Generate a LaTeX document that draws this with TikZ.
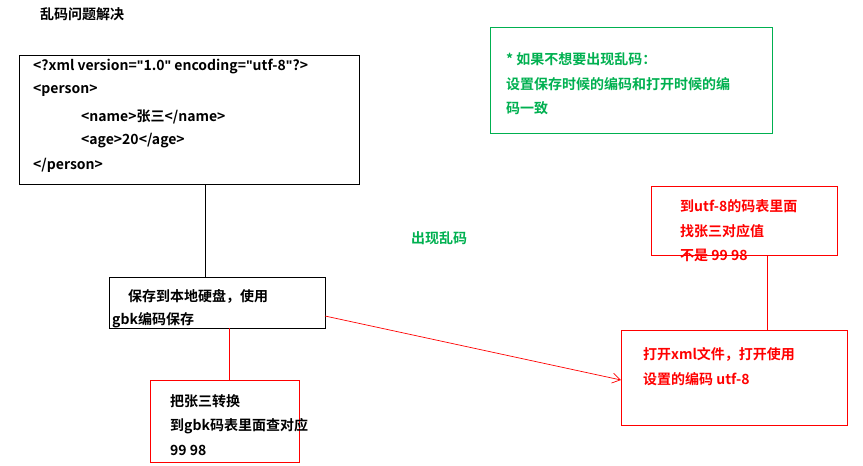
\documentclass[tikz,border=0pt]{standalone}
\usepackage{fontspec}
\usetikzlibrary{arrows.meta}
\setmainfont{Noto Sans CJK SC}[BoldFont={Noto Sans CJK SC Bold}]
\newfontfamily\latinb{Liberation Sans}[BoldFont={Liberation Sans Bold}]
\begin{document}
\begin{tikzpicture}[x=1pt,y=-1pt,
  box/.style={draw,line width=0.8pt},
  t/.style={anchor=west,inner sep=0pt,font=\fontsize{14}{24}\selectfont\bfseries},
  arr/.style={draw=red,line width=0.7pt,-{Straight Barb[length=8pt,width=10pt]}}]
\useasboundingbox (0,0) rectangle (863,466);
\definecolor{gr}{RGB}{0,176,80}
\node[t] (title) at (40,14) {乱码问题解决};
% xml box
\draw[box] (19,55) rectangle (359,184);
\coordinate (xt) at (205,184);
\node[t] (l1) at (33,67) {<?xml version={\latinb\textquotedbl}1.0{\latinb\textquotedbl} encoding={\latinb\textquotedbl}utf-8{\latinb\textquotedbl}?>};
\node[t] (l2) at (33,91) {<person>};
\node[t] (l3) at (81,117) {<name>张三</name>};
\node[t] (l4) at (81,141) {<age>20</age>};
\node[t] (l5) at (33,165) {</person>};
% green
\draw[box,draw=gr] (490,27) rectangle (772,133);
\node[t,text=gr] (g1) at (506,59) {* 如果不想要出现乱码：};
\node[t,text=gr] (g2) at (506,84) {设置保存时候的编码和打开时候的编};
\node[t,text=gr] (g3) at (506,108) {码一致};
\node[t,text=gr] (g4) at (411,238) {出现乱码};
% save box
\draw[box] (109,277) rectangle (325,328);
\coordinate (st) at (205,277);
\node[t] (s1) at (128,296) {保存到本地硬盘，使用};
\node[t] (s2) at (112,320) {gbk编码保存};
\draw[line width=0.8pt] (xt) -- (st);
% bottom red box
\draw[box,draw=red] (150,380) rectangle (299,462);
\node[t] (b1) at (170,401) {把张三转换};
\node[t] (b2) at (170,426) {到gbk码表里面查对应};
\node[t] (b3) at (170,450) {99 98};
\coordinate (sb) at (229,328);
\coordinate (bt) at (229,380);
\draw[red,line width=0.6pt] (sb) -- (bt);
% top right red
\draw[box,draw=red] (651,186) rectangle (837,255);
\node[t,text=red] (r1) at (680,206) {到utf-8的码表里面};
\node[t,text=red] (r2) at (680,231) {找张三对应值};
\node[t,text=red] (r3) at (680,255) {不是 99 98};
% right red
\draw[box,draw=red] (621,330) rectangle (847,425);
\node[t,text=red] (o1) at (643,354) {打开xml文件，打开使用};
\node[t,text=red] (o2) at (643,379) {设置的编码 utf-8};
\coordinate (tb) at (767,255);
\coordinate (ot) at (767,330);
\draw[red,line width=0.6pt] (tb) -- (ot);
\coordinate (sr) at (325,316);
\coordinate (ol) at (621,380);
\draw[arr] (sr) -- (ol);
\end{tikzpicture}
\end{document}
